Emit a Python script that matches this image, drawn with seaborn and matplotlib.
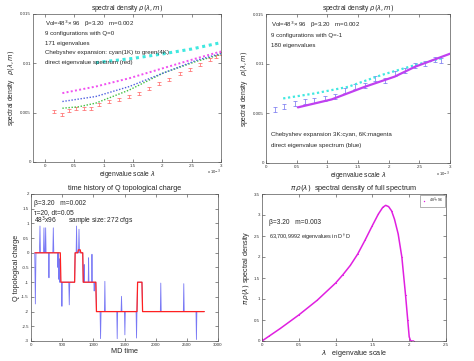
import matplotlib
matplotlib.use("Agg")
import matplotlib.pyplot as plt
import seaborn as sns

sns.set_style("ticks")
plt.rcParams['font.family'] = ['Liberation Sans', 'DejaVu Sans']
plt.rcParams['mathtext.fontset'] = 'dejavusans'

# ---- panel 1: Q=0, values in units of 1e-3 ----
p1_red_lam = [0.16, 0.30, 0.42, 0.53, 0.67, 0.78, 0.93, 1.10, 1.27, 1.44, 1.61, 1.78,
              1.95, 2.12, 2.30, 2.47, 2.64, 2.81, 2.92, 3.00]
p1_red_rho = [5.10, 4.78, 5.20, 5.45, 5.45, 5.40, 5.80, 6.13, 6.37, 6.64, 6.98, 7.48,
              7.99, 8.39, 9.00, 9.40, 9.84, 10.34, 10.68, 11.00]
p1_red_err = [0.15] * len(p1_red_lam)
p1_cyan_lam = [0.87, 1.5, 2.0, 2.5, 3.0]
p1_cyan_rho = [10.07, 10.5, 10.95, 11.45, 12.1]
p1_mag_lam = [0.30, 0.87, 1.44, 2.01, 2.58, 3.0]
p1_mag_rho = [6.98, 7.65, 8.49, 9.50, 10.50, 11.2]
p1_blue_lam = [0.30, 0.87, 1.44, 2.01, 2.58, 3.0]
p1_blue_rho = [6.13, 6.64, 7.65, 9.00, 10.30, 11.0]
p1_green_lam = [0.30, 0.58, 0.87, 1.44, 2.01, 2.58, 3.0]
p1_green_rho = [5.45, 5.60, 5.97, 7.30, 9.00, 10.20, 10.9]

# ---- panel 2: Q=-1, values in units of 1e-3 ----
p2_blue_lam = [0.14, 0.30, 0.47, 0.63, 0.79, 0.96, 1.12, 1.28, 1.45, 1.61, 1.77, 1.94,
               2.10, 2.26, 2.43, 2.59, 2.75, 2.86]
p2_blue_rho = [5.39, 5.65, 5.99, 6.23, 6.33, 6.50, 6.66, 7.33, 7.67, 7.84, 8.50, 8.34,
               9.00, 9.35, 9.86, 10.00, 10.40, 10.30]
p2_blue_err = [0.25] * len(p2_blue_lam)
p2_cyan_lam = [0.28, 0.79, 1.34, 1.88, 2.43, 2.86]
p2_cyan_rho = [6.50, 7.00, 7.67, 8.85, 9.86, 10.53]
p2_mag_lam = [0.52, 1.07, 1.61, 2.10, 2.43, 3.0]
p2_mag_rho = [5.60, 6.40, 7.67, 8.70, 9.69, 11.0]

# ---- panel 3: topological charge history ----
q_blue_t = [60, 70, 80, 135, 144, 152, 200, 208, 216, 228, 235, 242, 282, 288, 294, 350,
            358, 366, 425, 432, 438, 445, 452, 458, 465, 472, 490, 496, 503, 606, 614,
            622, 700, 708, 724, 731, 738, 762, 770, 778, 830, 838, 848, 854, 860, 918,
            924, 930, 972, 978, 985, 1008, 1014, 1020, 1040, 1050, 1108, 1116, 1124,
            1178, 1185, 1192, 1376, 1383, 1390, 1445, 1452, 1459, 1499, 1506, 1513,
            1686, 1693, 1700, 1710, 1780, 1790, 2075, 2082, 2089, 2444, 2451, 2458,
            2647, 2654, 2661, 2780]
q_blue_q = [0, -1.74, 0, 0, 0.91, 0, 0, 0.85, 0, 0, 0.85, 0, 0, -0.85, 0, 0,
            0.85, 0, 0, -0.5, 0, -0.9, -0.2, -1.0, -0.4, -1.0, -1.0, -1.82, -1, -1, -1.77,
            -1, -1, 0, 0, 0.91, 0, 0, 0.8, 0, 0, -1, -1, -0.4, -1, -1,
            -0.17, -1, -1, -0.05, -1, -1, -1.3, -1, -1, -2, -2, -2.92, -2,
            -2, -0.97, -2, -2, -2.92, -2, -2, -1.48, -2, -2, -2.79, -2,
            -2, -2.9, -2, -1, -1, -2, -2, -1.03, -2, -2, -1.05, -2,
            -2, -2.95, -2, -2]
q_red_t = [64, 470, 480, 700, 708, 750, 760, 790, 800, 830, 838, 1040, 1050, 1700,
           1710, 1780, 1790, 2780]
q_red_q = [0, 0, -1, -1, 0, 0, 0.1, 0.1, 0, 0, -1, -1, -2, -2, -1, -1, -2, -2]

# ---- panel 4: full spectrum ----
full_lam = [0, 0.1, 0.25, 0.5, 0.75, 1.0, 1.1, 1.2, 1.3, 1.4, 1.5, 1.58, 1.64, 1.68,
            1.72, 1.76, 1.8, 1.85, 1.9, 1.95, 1.98, 2.0, 2.02, 2.06]
full_rho = [0, 0.12, 0.3, 0.62, 0.97, 1.38, 1.58, 1.8, 2.07, 2.4, 2.75, 3.02, 3.18, 3.23,
            3.2, 3.1, 2.9, 2.55, 2.0, 1.1, 0.5, 0.1, 0, 0]

W, H = 474, 361
fig = plt.figure(figsize=(W / 100, H / 100), dpi=100)


def make_ax(l, r, t, b):
    ax = fig.add_axes([l / W, 1 - b / H, (r - l) / W, (b - t) / H])
    ax.tick_params(direction="in", top=True, right=True, labelsize=3.2,
                   length=2, width=0.4, pad=1.5, colors="#333333")
    for s in ax.spines.values():
        s.set_linewidth(0.5)
        s.set_color("#555555")
    return ax


dot = (0, (1, 1.2))

# panel 1
ax1 = make_ax(33, 221, 14, 162)
ax1.errorbar(p1_red_lam, p1_red_rho, yerr=p1_red_err, fmt="none", ecolor="#ff6060",
             elinewidth=0.5, capsize=1.5, capthick=0.5)
sns.lineplot(x=p1_cyan_lam, y=p1_cyan_rho, ax=ax1, color="#40e8e0", lw=2.2, ls=dot)
sns.lineplot(x=p1_green_lam, y=p1_green_rho, ax=ax1, color="#40c040", lw=1.0, ls=dot)
sns.lineplot(x=p1_blue_lam, y=p1_blue_rho, ax=ax1, color="#5060e0", lw=1.0, ls=dot)
sns.lineplot(x=p1_mag_lam, y=p1_mag_rho, ax=ax1, color="#f050f0", lw=1.4, ls=dot)
ax1.set_xlim(-0.2, 3)
ax1.set_ylim(0, 15)
ax1.set_xticks([0, 0.5, 1, 1.5, 2, 2.5, 3])
ax1.set_xticklabels(["0", "0.5", "1", "1.5", "2", "2.5", "3"])
ax1.set_yticks([0, 5, 10, 15])
ax1.set_yticklabels(["0", "0.005", "0.01", "0.015"])
ax1.set_title("spectral density $\\rho(\\lambda,m)$", fontsize=4.8, pad=3)
ax1.set_xlabel("eigenvalue scale $\\lambda$", fontsize=4.8, labelpad=1)
ax1.set_ylabel("spectral density   $\\rho(\\lambda,m)$", fontsize=4.8, labelpad=2)
ax1.text(1.0, -0.085, "x 10$^{-3}$", transform=ax1.transAxes, fontsize=3, ha="right")
for i, s in enumerate(["Vol=48$^3$\u00d7 96   \u03b2=3.20   m=0.002",
                       "9 configurations with Q=0", "171 eigenvalues",
                       "Chebyshev expansion: cyan(1K) to green(4K)",
                       "direct eigenvalue spectrum (red)"]):
    ax1.text(0.0, 14.0 - i * 0.98, s, fontsize=4.4, va="center")

# panel 2
ax2 = make_ax(266, 450, 14, 163)
ax2.errorbar(p2_blue_lam, p2_blue_rho, yerr=p2_blue_err, fmt="none", ecolor="#7070f0",
             elinewidth=0.5, capsize=1.5, capthick=0.5)
sns.lineplot(x=p2_cyan_lam, y=p2_cyan_rho, ax=ax2, color="#40e8e0", lw=1.6, ls=dot)
sns.lineplot(x=p2_mag_lam, y=p2_mag_rho, ax=ax2, color="#c040f0", lw=1.6)
ax2.set_xlim(0, 3)
ax2.set_ylim(0, 15)
ax2.set_xticks([0, 0.5, 1, 1.5, 2, 2.5, 3])
ax2.set_xticklabels(["0", "0.5", "1", "1.5", "2", "2.5", "3"])
ax2.set_yticks([0, 5, 10, 15])
ax2.set_yticklabels(["0", "0.005", "0.01", "0.015"])
ax2.set_title("spectral density $\\rho(\\lambda,m)$", fontsize=4.8, pad=3)
ax2.set_xlabel("eigenvalue scale $\\lambda$", fontsize=4.8, labelpad=1)
ax2.set_ylabel("spectral density   $\\rho(\\lambda,m)$", fontsize=4.8, labelpad=2)
ax2.text(1.0, -0.085, "x 10$^{-3}$", transform=ax2.transAxes, fontsize=3, ha="right")
for i, s in enumerate(["Vol=48$^3$\u00d7 96   \u03b2=3.20   m=0.002",
                       "9 configurations with Q=-1", "180 eigenvalues"]):
    ax2.text(0.08, 13.9 - i * 1.06, s, fontsize=4.4, va="center")
for i, s in enumerate(["Chebyshev expansion 3K:cyan, 6K:magenta",
                       "direct eigenvalue spectrum (blue)"]):
    ax2.text(0.08, 2.9 - i * 1.15, s, fontsize=4.4, va="center")

# panel 3
ax3 = make_ax(31, 218, 194, 341)
sns.lineplot(x=q_blue_t, y=q_blue_q, ax=ax3, color="#7878f5", lw=0.6, sort=False,
             estimator=None)
sns.lineplot(x=q_red_t, y=q_red_q, ax=ax3, color="#ff2020", lw=0.9, sort=False,
             estimator=None)
ax3.set_xlim(0, 3000)
ax3.set_ylim(-3, 2)
ax3.set_xticks(range(0, 3001, 500))
ax3.set_yticks([-3, -2.5, -2, -1.5, -1, -0.5, 0, 0.5, 1, 1.5, 2])
ax3.set_yticklabels(["-3", "-2.5", "-2", "-1.5", "-1", "-0.5", "0", "0.5", "1", "1.5", "2"])
ax3.set_title("time history of Q topological charge", fontsize=5.2, pad=3)
ax3.set_xlabel("MD time", fontsize=5.2, labelpad=0.5)
ax3.set_ylabel("Q topological charge", fontsize=5.2, labelpad=1)
for i, s in enumerate(["\u03b2=3.20   m=0.002", "\u03c4=20, dt=0.05",
                       "48$^3$x96       sample size: 272 cfgs"]):
    ax3.text(53, 1.68 - i * 0.31, s, fontsize=4.8, va="center")

# panel 4
ax4 = make_ax(262, 446, 194, 341)
sns.lineplot(x=full_lam, y=full_rho, ax=ax4, color="#e020e0", lw=1.1,
             marker="o", markersize=0.8, markeredgewidth=0, label="48$^3$\u00d7 96")
ax4.set_xlim(0, 2.5)
ax4.set_ylim(0, 3.5)
ax4.set_xticks([0, 0.5, 1, 1.5, 2, 2.5])
ax4.set_xticklabels(["0", "0.5", "1", "1.5", "2", "2.5"])
ax4.set_yticks([0, 0.5, 1, 1.5, 2, 2.5, 3, 3.5])
ax4.set_yticklabels(["0", "0.5", "1", "1.5", "2", "2.5", "3", "3.5"])
ax4.set_title("$\\pi\\,\\rho(\\lambda)$  spectral density of full spectrum", fontsize=5.2, pad=3)
ax4.set_xlabel("$\\lambda$   eigenvalue scale", fontsize=5.2, labelpad=0.5)
ax4.set_ylabel("$\\pi\\,\\rho(\\lambda)$ spectral density", fontsize=5.2, labelpad=1)
leg = ax4.legend(loc="upper right", fontsize=2.6, handlelength=1.6, frameon=True,
                 fancybox=False, borderpad=0.3, borderaxespad=0.3, handletextpad=0.5)
leg.get_frame().set_linewidth(0.4)
leg.get_frame().set_edgecolor("#555555")
for ln in leg.get_lines():
    ln.set_linewidth(0)
    ln.set_markersize(1.0)
ax4.text(0.1, 2.82, "\u03b2=3.20   m=0.003", fontsize=4.8, va="center")
ax4.text(0.1, 2.48, "63,700,9992 eigenvalues in D$^\\dagger$D", fontsize=4.0, va="center")

fig.savefig("out.png", dpi=100)
